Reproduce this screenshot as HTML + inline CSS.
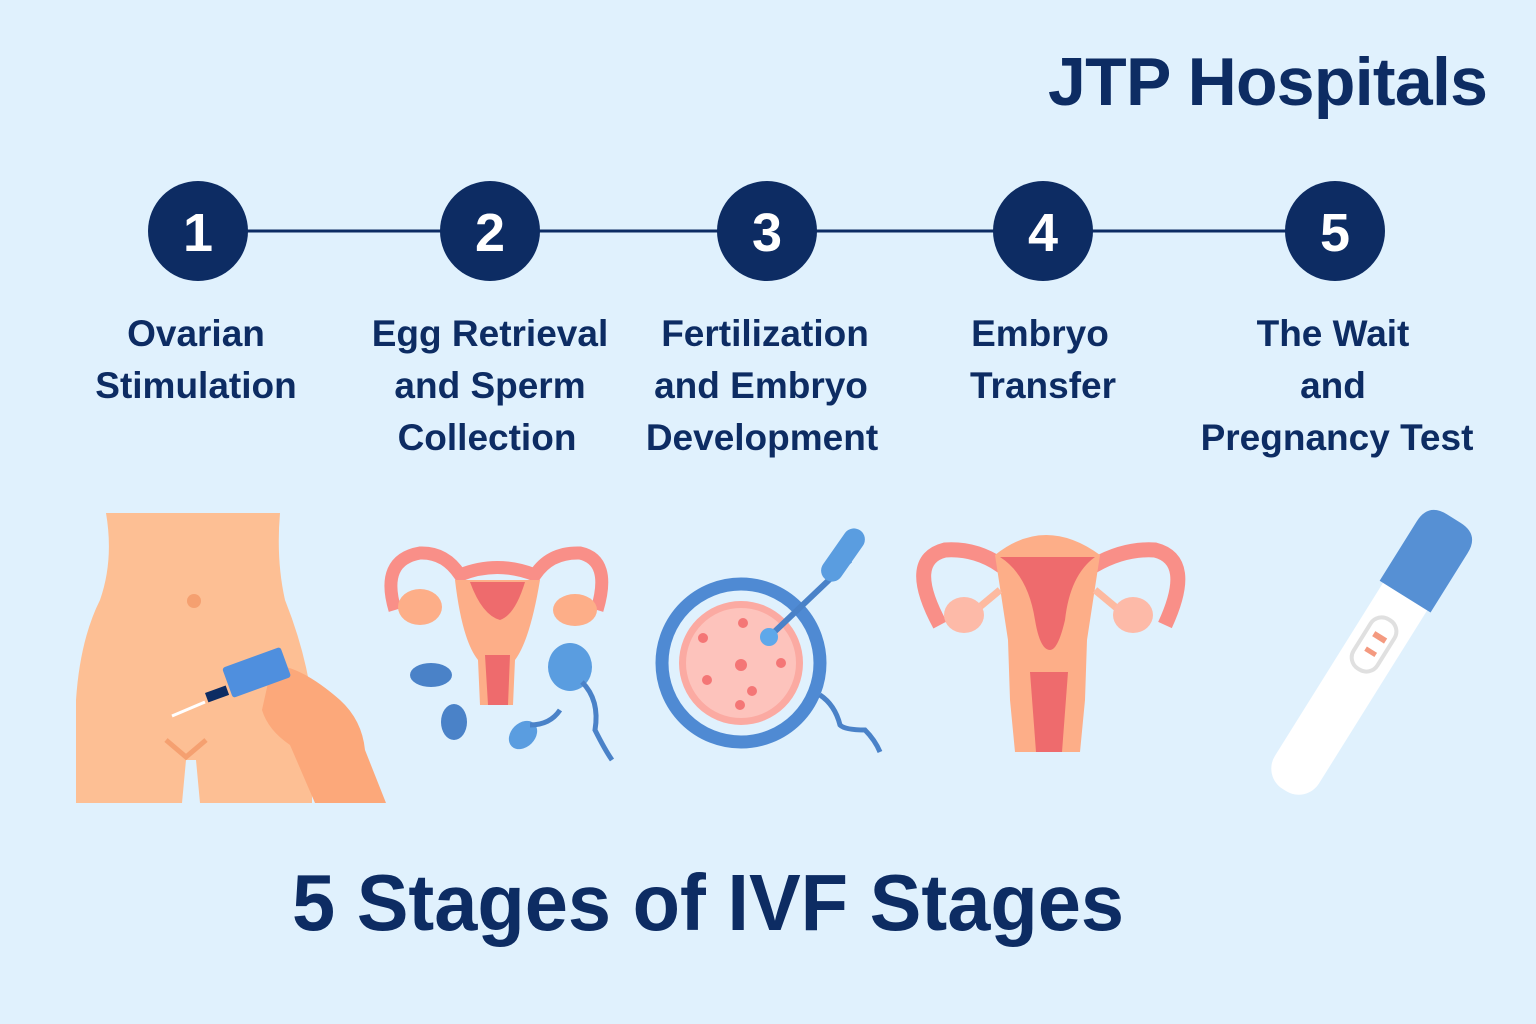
<!DOCTYPE html>
<html><head><meta charset="utf-8"><style>
html,body{margin:0;padding:0;background:#e0f1fd;}
svg{display:block;}
text{font-family:"Liberation Sans",sans-serif;}
</style></head><body>
<svg width="1536" height="1024" viewBox="0 0 1536 1024" xmlns="http://www.w3.org/2000/svg">
<rect width="1536" height="1024" fill="#e0f1fd"/>
<text x="1488" y="105" text-anchor="end" font-size="68" font-weight="bold" fill="#0d2c63" textLength="440">JTP Hospitals</text>
<line x1="198" y1="231" x2="1335" y2="231" stroke="#0d2c63" stroke-width="3"/>
<g fill="#0d2c63">
<circle cx="198" cy="231" r="50"/><circle cx="490" cy="231" r="50"/><circle cx="767" cy="231" r="50"/><circle cx="1043" cy="231" r="50"/><circle cx="1335" cy="231" r="50"/>
</g>
<g fill="#fff" font-size="54" font-weight="bold" text-anchor="middle">
<text x="198" y="251">1</text><text x="490" y="251">2</text><text x="767" y="251">3</text><text x="1043" y="251">4</text><text x="1335" y="251">5</text>
</g>
<g fill="#0d2c63" font-size="37" font-weight="bold" text-anchor="middle">
<text x="196" y="346">Ovarian</text><text x="196" y="398">Stimulation</text>
<text x="490" y="346">Egg Retrieval</text><text x="490" y="398">and Sperm</text><text x="487" y="450">Collection</text>
<text x="765" y="346">Fertilization</text><text x="761" y="398">and Embryo</text><text x="762" y="450">Development</text>
<text x="1040" y="346">Embryo</text><text x="1043" y="398">Transfer</text>
<text x="1333" y="346">The Wait</text><text x="1333" y="398">and</text><text x="1337" y="450">Pregnancy Test</text>
</g>
<!-- body -->
<path d="M106 513 L280 513 Q276 560 285 600 Q305 650 312 700 L312 803 L200 803 L196 760 L186 760 L182 803 L76 803 L76 700 Q80 640 100 600 Q114 560 106 513 Z" fill="#fdbf94"/>
<circle cx="194" cy="601" r="7" fill="#f5a070"/>
<path d="M166 740 L186 757 L206 740" stroke="#f5a070" stroke-width="5" fill="none"/>
<path d="M272 665 Q300 665 340 700 Q362 720 365 750 L386 803 L315 803 L290 745 Q268 730 262 710 Z" fill="#fca87a"/>
<line x1="172" y1="716" x2="205" y2="702" stroke="#fff" stroke-width="3"/>
<rect x="205" y="693" width="22" height="10" fill="#0d2c63" transform="rotate(-20 205 693)"/>
<rect x="222" y="668" width="62" height="32" rx="3" fill="#4f8fde" transform="rotate(-20 222 668)"/>
<!-- uterus 2 -->
<g>
<path d="M395 610 Q380 560 420 553 Q445 552 460 575 Q497 560 535 575 Q550 552 580 553 Q612 560 597 610" stroke="#f98f88" stroke-width="13" fill="none"/>
<path d="M455 580 L540 580 Q530 640 515 660 L513 705 L480 705 L478 660 Q462 640 455 580Z" fill="#fdae88"/>
<path d="M470 582 L525 582 Q515 615 500 620 Q482 615 470 582Z M485 655 L510 655 L508 705 L488 705Z" fill="#ee6b6d"/>
<ellipse cx="420" cy="607" rx="22" ry="18" fill="#fdae88"/><ellipse cx="575" cy="610" rx="22" ry="16" fill="#fdae88"/>
</g>
<g fill="#4a82c8"><ellipse cx="431" cy="675" rx="21" ry="12"/><ellipse cx="454" cy="722" rx="13" ry="18"/></g>
<ellipse cx="570" cy="667" rx="22" ry="24" fill="#5a9de0"/>
<path d="M582 682 Q600 700 595 730 Q605 750 612 760" stroke="#4a82c8" stroke-width="5" fill="none"/>
<ellipse cx="523" cy="735" rx="12" ry="16" fill="#5a9de0" transform="rotate(45 523 735)"/>
<path d="M530 725 Q550 725 560 710" stroke="#4a82c8" stroke-width="5" fill="none"/>
<!-- petri -->
<circle cx="741" cy="663" r="79" fill="none" stroke="#4f8ad3" stroke-width="13"/>
<circle cx="741" cy="663" r="62" fill="#fbaaa2"/><circle cx="741" cy="663" r="55" fill="#fdc3bc"/>
<g fill="#f47676"><circle cx="703" cy="638" r="5"/><circle cx="743" cy="623" r="5"/><circle cx="741" cy="665" r="6"/><circle cx="781" cy="663" r="5"/><circle cx="707" cy="680" r="5"/><circle cx="752" cy="691" r="5"/><circle cx="740" cy="705" r="5"/></g>
<line x1="770" y1="636" x2="850" y2="560" stroke="#4a82c8" stroke-width="6"/>
<rect x="832" y="525" width="22" height="60" rx="11" fill="#5a9de0" transform="rotate(35 843 555)"/>
<circle cx="769" cy="637" r="9" fill="#5ea8ea"/>
<path d="M820 695 Q835 705 840 725 Q845 730 865 730 Q875 740 880 752" stroke="#4a82c8" stroke-width="5" fill="none"/>
<!-- uterus 4 -->
<path d="M940 625 Q905 560 945 550 Q975 548 1000 565 L1095 565 Q1125 548 1155 550 Q1195 560 1165 625" stroke="#f98f88" stroke-width="15" fill="none"/>
<path d="M995 555 Q1045 515 1100 555 L1087 640 L1085 700 L1080 752 L1015 752 L1010 700 L1008 640 Z" fill="#fdae88"/>
<path d="M1000 557 L1095 557 Q1070 575 1065 620 Q1058 650 1050 650 Q1040 650 1035 620 Q1028 575 1000 557Z M1030 672 L1068 672 L1062 752 L1036 752Z" fill="#ee6b6d"/>
<line x1="970" y1="615" x2="1000" y2="590" stroke="#fdbaa0" stroke-width="7"/><line x1="1125" y1="615" x2="1095" y2="590" stroke="#fdbaa0" stroke-width="7"/>
<ellipse cx="964" cy="615" rx="20" ry="18" fill="#fdbaa8"/><ellipse cx="1133" cy="615" rx="20" ry="18" fill="#fdbaa8"/>
<!-- test -->
<g transform="translate(1368 656) rotate(-58)">
<rect x="-158" y="-26" width="316" height="52" rx="24" fill="#fff"/>
<path d="M70 -30 L140 -30 Q162 -30 162 -8 L162 8 Q162 30 140 30 L70 30 Z" fill="#5690d4"/>
<rect x="-8" y="-15" width="58" height="28" rx="13" fill="none" stroke="#e0e0e0" stroke-width="4" transform="translate(-8 0)"/>
<line x1="5" y1="-6" x2="5" y2="6" stroke="#f49a80" stroke-width="5"/>
<line x1="22" y1="-7" x2="22" y2="7" stroke="#f49a80" stroke-width="6"/>
</g>
<text x="292" y="930" font-size="80" font-weight="bold" fill="#0d2c63" textLength="832" lengthAdjust="spacingAndGlyphs">5 Stages of IVF Stages</text>
</svg>
</body></html>
